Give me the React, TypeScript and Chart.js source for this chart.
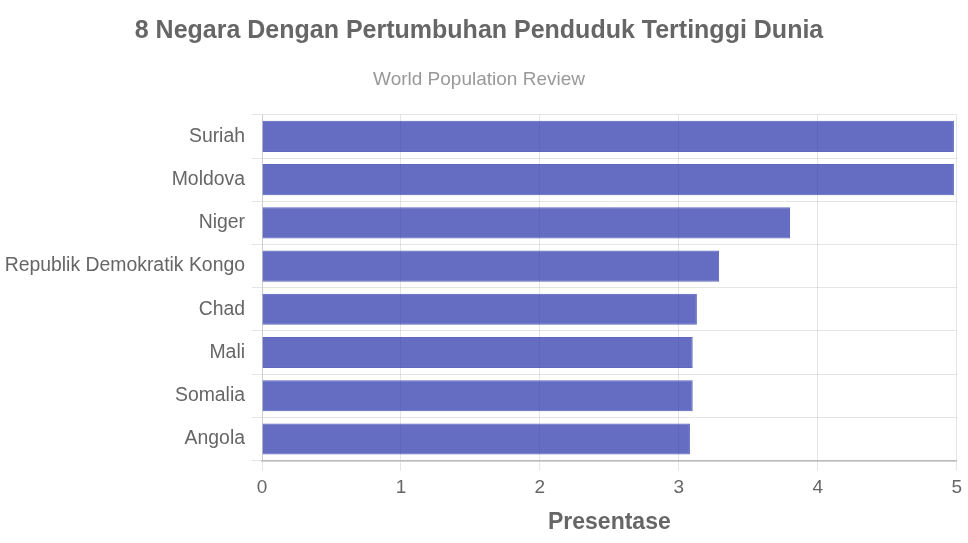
import React, { useEffect, useRef } from "react";
import { Chart, registerables } from "chart.js";

Chart.register(...registerables);

const categories = ["Suriah", "Moldova", "Niger", "Republik Demokratik Kongo", "Chad", "Mali", "Somalia", "Angola"];
const values = [4.98, 4.98, 3.8, 3.29, 3.13, 3.1, 3.1, 3.08];
const titleText = "8 Negara Dengan Pertumbuhan Penduduk Tertinggi Dunia";
const subtitleText = "World Population Review";
const xAxisTitle = "Presentase";

const FF = "'Liberation Sans', Arial, sans-serif";

export default function App() {
  const ref = useRef<HTMLCanvasElement>(null);
  useEffect(() => {
    document.body.style.margin = "0";
    const ctx = ref.current!;
    const chart = new Chart(ctx, {
      type: "bar",
      data: {
        labels: categories,
        datasets: [
          {
            data: values,
            backgroundColor: "rgba(40,53,170,0.72)",
            borderColor: "rgba(40,53,170,0.75)",
            borderWidth: 1,
          },
        ],
      },
      options: {
        indexAxis: "y",
        animation: false,
        responsive: false,
        layout: { padding: { left: 0, right: 10, top: 1, bottom: 3 } },
        plugins: {
          legend: { display: false },
          title: {
            display: true,
            text: titleText,
            color: "#666",
            font: { family: FF, size: 25, weight: "bold" },
            padding: { top: 15, bottom: 22 },
          },
          subtitle: {
            display: true,
            text: subtitleText,
            color: "#999",
            font: { family: FF, size: 19 },
            padding: { bottom: 24 },
          },
        },
        scales: {
          x: {
            min: 0,
            max: 5,
            ticks: {
              stepSize: 1,
              color: "#666",
              padding: 6,
              font: { family: FF, size: 19 },
            },
            grid: { color: "rgba(0,0,0,0.1)", tickLength: 10 },
            border: { color: "rgba(0,0,0,0.18)", width: 2 },
            title: {
              display: true,
              text: xAxisTitle,
              color: "#666",
              padding: { top: 3, bottom: 4 },
              font: { family: FF, size: 23, weight: "bold" },
            },
          },
          y: {
            afterFit: (scale: any) => {
              scale.width = 262;
            },
            ticks: {
              color: "#666",
              padding: 7,
              font: { family: FF, size: 19.4 },
            },
            grid: { color: "rgba(0,0,0,0.1)", tickLength: 10 },
            border: { color: "rgba(0,0,0,0.1)" },
          },
        },
      },
    });
    return () => chart.destroy();
  }, []);
  return <canvas ref={ref} width={968} height={543} style={{ display: "block" }} />;
}
